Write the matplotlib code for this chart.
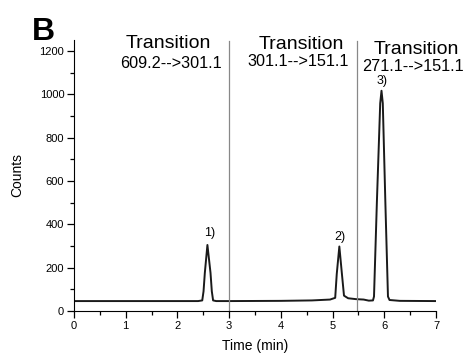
import matplotlib
matplotlib.use("Agg")
import matplotlib.pyplot as plt
from matplotlib.ticker import MultipleLocator

plt.rcParams['font.family'] = ['Liberation Sans', 'DejaVu Sans']

# chromatogram (time in min, counts)
time = [0.0, 1.0, 2.0, 2.40, 2.48, 2.505, 2.53, 2.58, 2.64, 2.665, 2.69, 2.75,
        3.0, 4.0, 4.6, 4.95, 5.05, 5.08, 5.13, 5.18, 5.22, 5.30,
        5.45, 5.60, 5.70, 5.78, 5.80, 5.855, 5.92, 5.945, 5.97, 6.02,
        6.07, 6.10, 6.3, 7.0]
counts = [45, 45, 45, 45, 48, 90, 175, 304, 175, 90, 48, 45,
          45, 46, 48, 52, 60, 170, 297, 170, 70, 58,
          54, 52, 47, 48, 66, 497, 958, 1016, 958, 497,
          66, 50, 46, 45]

peak_labels = ["1)", "2)", "3)"]
peak_pos = [(2.62, 358), (5.15, 343), (5.96, 1062)]

segment_edges = [3.0, 5.47]
transitions = ["609.2-->301.1", "301.1-->151.1", "271.1-->151.1"]
trans_x = [1.82, 4.39, 6.61]
trans_y = [1234, 1228, 1206]
label_x = [1.88, 4.33, 6.56]
label_y = [1144, 1150, 1130]

fig = plt.figure(figsize=(4.74, 3.61), dpi=100)
ax = fig.add_axes([0.156, 0.139, 0.764, 0.75])

ax.plot(time, counts, color='#1a1a1a', lw=1.4)
for xe in segment_edges:
    ax.axvline(xe, ymax=0.995, color='#888888', lw=0.9)

for lab, (px, py) in zip(peak_labels, peak_pos):
    ax.text(px, py, lab, ha='center', va='center', fontsize=9)

for tx, ty, lx, ly, lab in zip(trans_x, trans_y, label_x, label_y, transitions):
    ax.text(tx, ty, "Transition", ha='center', va='center', fontsize=14,
            clip_on=False)
    ax.text(lx, ly, lab, ha='center', va='center', fontsize=11.7,
            clip_on=False)

ax.set_xlim(0, 7)
ax.set_ylim(0, 1250)
ax.xaxis.set_major_locator(MultipleLocator(1))
ax.xaxis.set_minor_locator(MultipleLocator(0.5))
ax.yaxis.set_minor_locator(MultipleLocator(100))
ax.set_yticks(range(0, 1201, 200))
ax.tick_params(which='major', direction='out', length=5, width=0.9,
               labelsize=8, pad=2)
ax.tick_params(which='minor', direction='out', length=3, width=0.9)
ax.spines['top'].set_visible(False)
ax.spines['right'].set_visible(False)

ax.set_xlabel("Time (min)", fontsize=10, labelpad=6)
ax.set_ylabel("Counts", fontsize=10, labelpad=11)

fig.text(0.068, 0.91, "B", fontsize=23, fontweight='bold', ha='left',
         va='center')

fig.savefig("out.png", dpi=100)
